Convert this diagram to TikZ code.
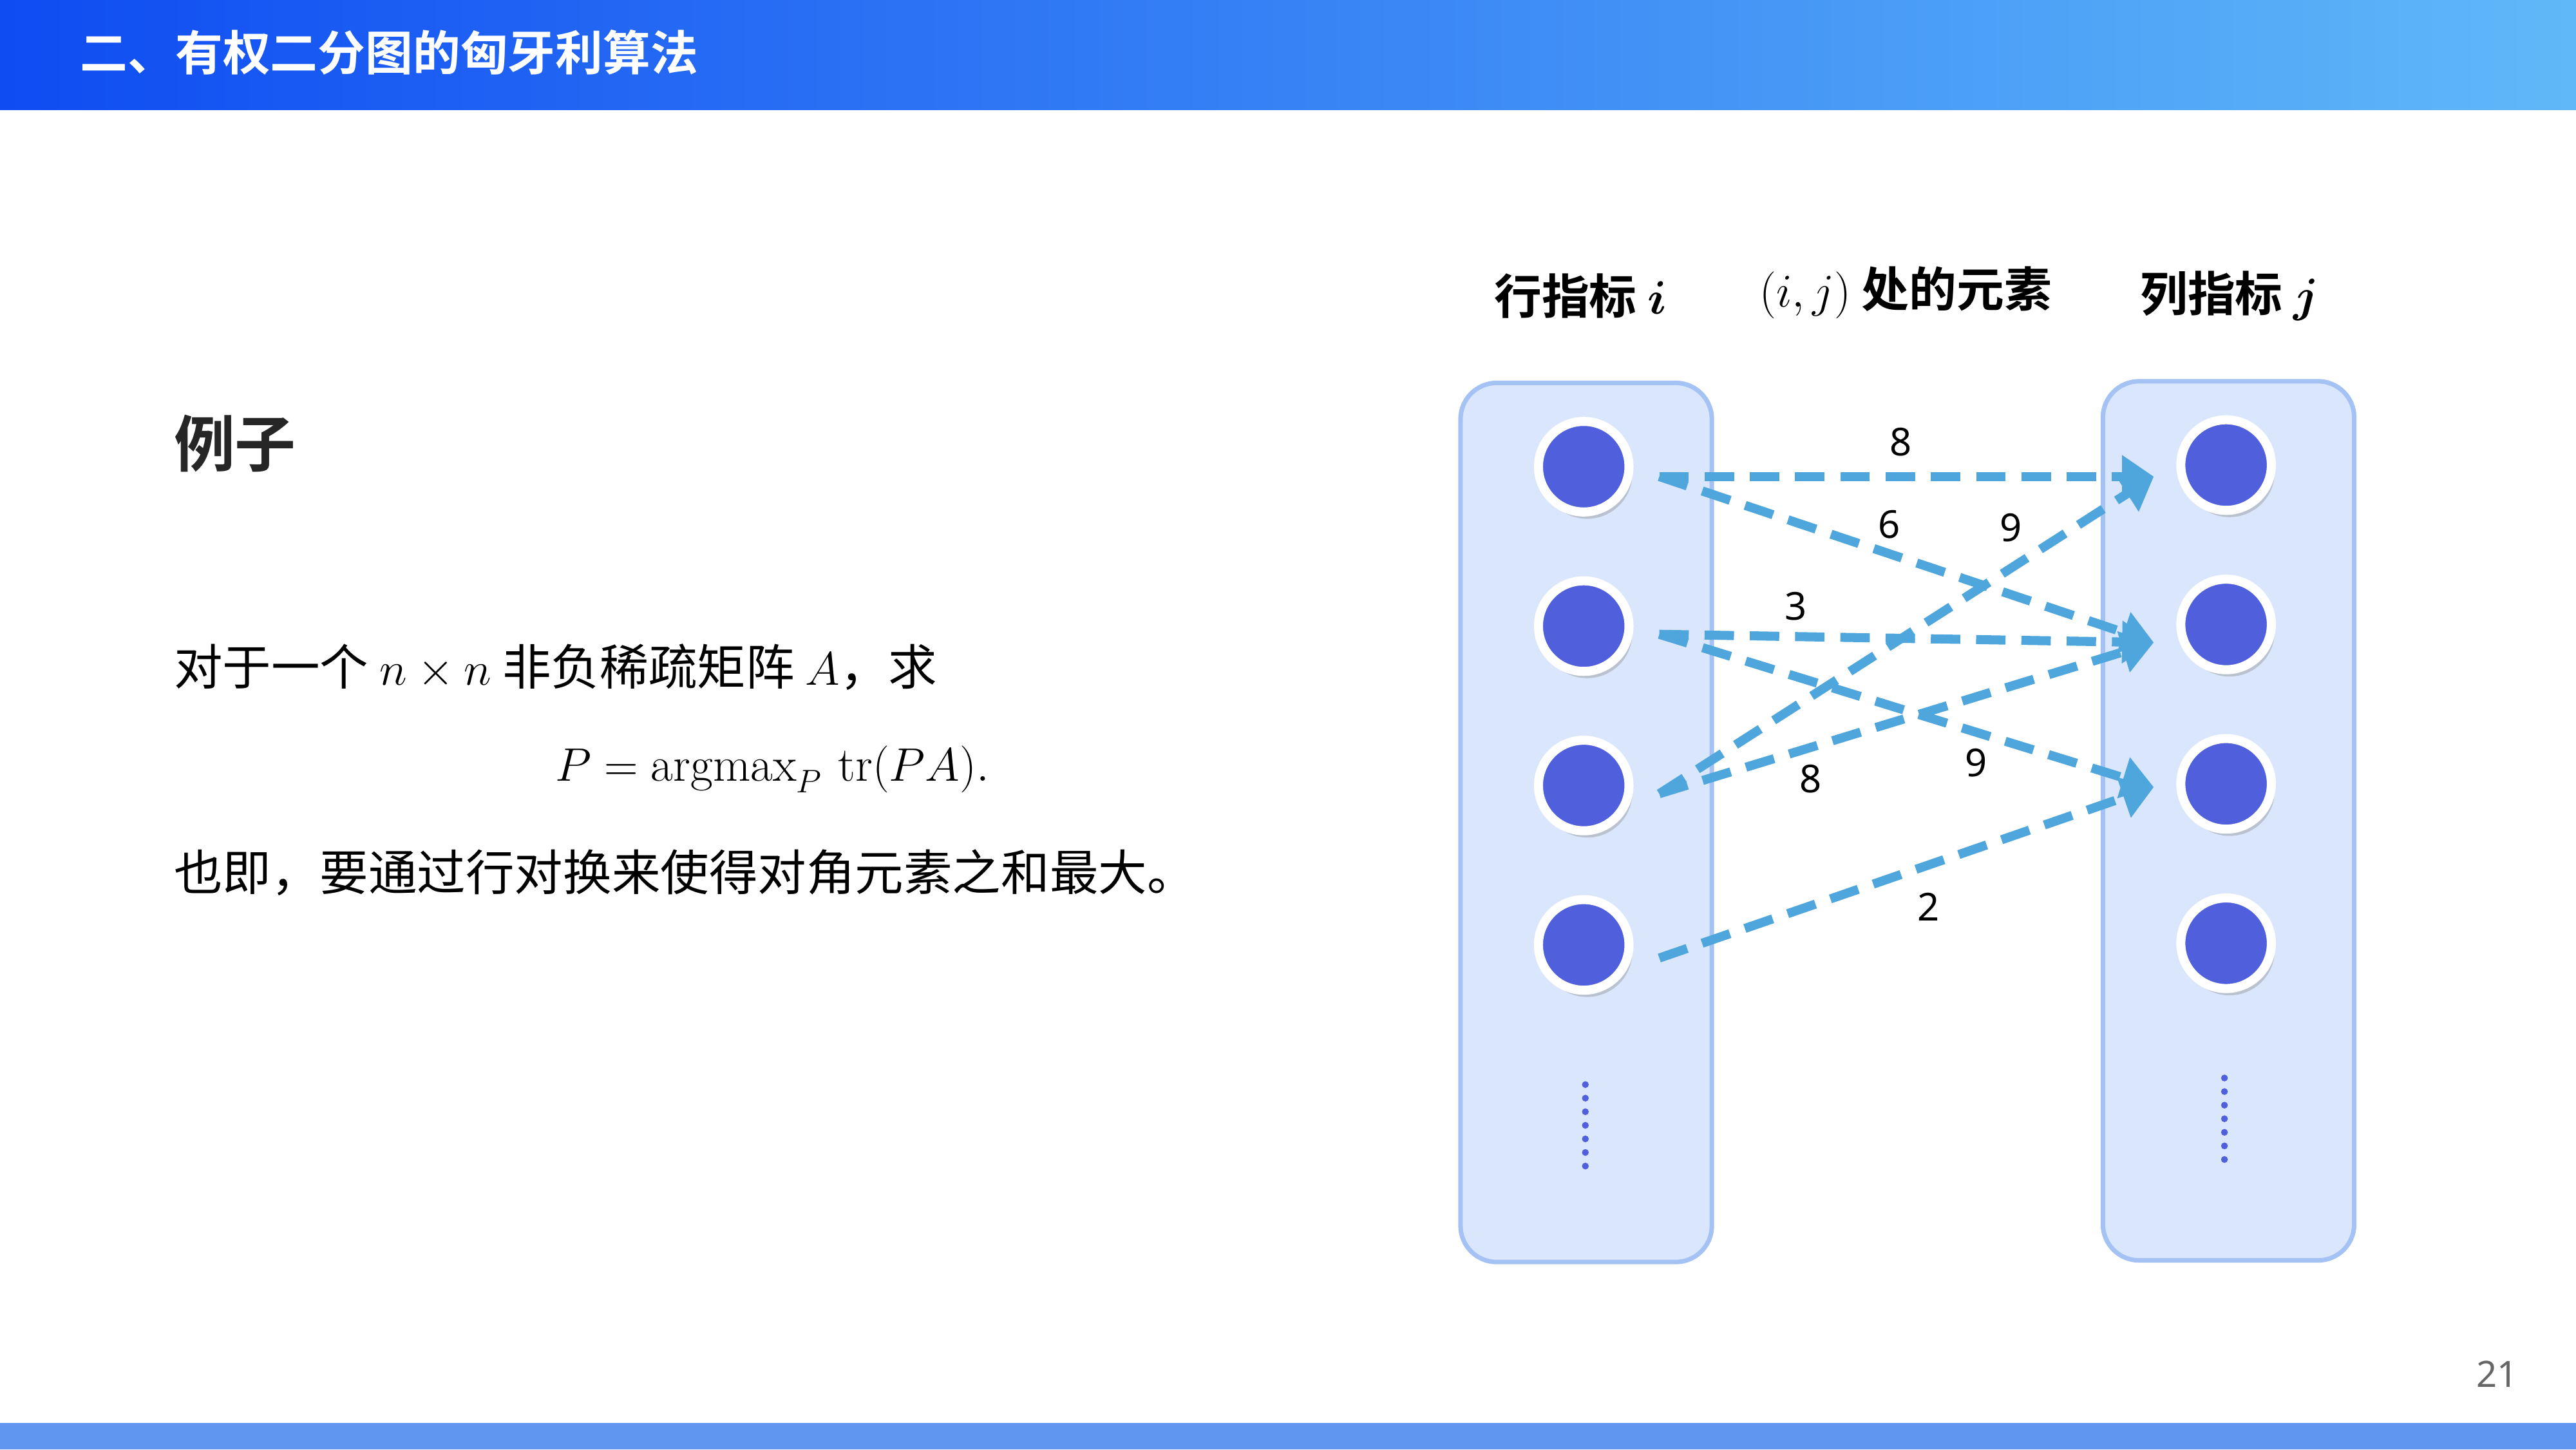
\documentclass[tikz,border=0pt]{standalone}
\usepackage{fontspec}
\usepackage{amsmath}
\setsansfont{Noto Sans}
\newfontfamily\cjk{Noto Sans CJK SC}
\newfontfamily\cjkb{Noto Sans CJK SC Bold}
\usetikzlibrary{arrows.meta,shadows}
\definecolor{hdrA}{HTML}{0F4CF2}
\definecolor{hdrB}{HTML}{5FB9F8}
\definecolor{boxfill}{HTML}{DAE6FC}
\definecolor{boxline}{HTML}{A4C2F4}
\definecolor{dotc}{HTML}{5060DD}
\definecolor{edgec}{HTML}{4EA6DD}
\definecolor{barc}{HTML}{6196F0}
\tikzset{
  colbox/.style={draw=boxline,line width=2pt,fill=boxfill,rounded corners=16pt},
  vert/.style={circle,fill=dotc,draw=white,line width=4pt,minimum size=40pt,inner sep=0pt,
    drop shadow={shadow xshift=1.5pt,shadow yshift=-3pt,opacity=.35,fill=gray}},
  edge/.style={draw=edgec,line width=4pt,dash pattern=on 13pt off 7pt,-{Triangle[length=14pt,width=18pt]}},
  wlab/.style={font=\sffamily\fontsize{17}{20}\selectfont},
  vdots/.style={dotc,line width=3pt,dash pattern=on 0pt off 6pt,line cap=round},
}
\begin{document}
\begin{tikzpicture}[x=0.025510cm,y=-0.025510cm]
\useasboundingbox (0,0) rectangle (1568,882);
\shade[left color=hdrA,right color=hdrB] (0,0) rectangle (1568,67);
\node[anchor=west,text=white,font=\cjkb\fontsize{21}{24}\selectfont] (title) at (44,32) {二、有权二分图的匈牙利算法};
\fill[barc] (0,866) rectangle (1568,882);
\node[text=gray!80!black,font=\sffamily\fontsize{16}{18}\selectfont] (pg) at (1520,836) {21};

\node[anchor=west,font=\cjkb\fontsize{27}{30}\selectfont,text=black!85] (ex) at (101,270) {例子};
\node[anchor=west,font=\cjk\fontsize{21.5}{26}\selectfont] (l1) at (101,406) {对于一个 $n\times n$ 非负稀疏矩阵 $A$，求};
\node[font=\fontsize{21.5}{26}\selectfont] (l2) at (470,468) {$P=\operatorname{argmax}_P\,\operatorname{tr}(PA).$};
\node[anchor=west,font=\cjk\fontsize{21.5}{26}\selectfont] (l3) at (101,531) {也即，要通过行对换来使得对角元素之和最大。};

\node[font=\cjkb\fontsize{21}{24}\selectfont] (h1) at (962,180) {行指标 $\boldsymbol{i}$};
\node[font=\cjkb\fontsize{21}{24}\selectfont] (h2) at (1160,178) {$(i,j)$ 处的元素};
\node[font=\cjkb\fontsize{21}{24}\selectfont] (h3) at (1357,180) {列指标 $\boldsymbol{j}$};

\draw[colbox] (889,233) rectangle (1042,768);
\draw[colbox] (1280,232) rectangle (1433,767);

\foreach \k/\y in {1/284,2/381,3/478,4/575}{
  \node[vert] (L\k) at (964,\y) {};
  \node[vert] (R\k) at (1355,\y-1) {};
}
\coordinate (Ld1) at (965,660); \coordinate (Ld2) at (965,713);
\coordinate (Rd1) at (1354,656); \coordinate (Rd2) at (1354,709);
\draw[vdots] (Ld1) -- (Ld2);
\draw[vdots] (Rd1) -- (Rd2);

\coordinate (s1) at (1010,290); \coordinate (s2) at (1010,386);
\coordinate (s3) at (1010,483); \coordinate (s4) at (1010,583);
\coordinate (e1) at (1311,290); \coordinate (e2) at (1311,391);
\coordinate (e3) at (1311,479);
\draw[edge] (s1) -- (e1);
\draw[edge] (s1) -- (e2);
\draw[edge] (s2) -- (e2);
\draw[edge] (s2) -- (e3);
\draw[edge] (s3) -- (e1);
\draw[edge] (s3) -- (e2);
\draw[edge] (s4) -- (e3);

\node[wlab] (w1) at (1157,269) {8};
\node[wlab] (w2) at (1150,319) {6};
\node[wlab] (w3) at (1224,321) {9};
\node[wlab] (w4) at (1093,369) {3};
\node[wlab] (w5) at (1102,474) {8};
\node[wlab] (w6) at (1203,464) {9};
\node[wlab] (w7) at (1174,552) {2};
\end{tikzpicture}
\end{document}
